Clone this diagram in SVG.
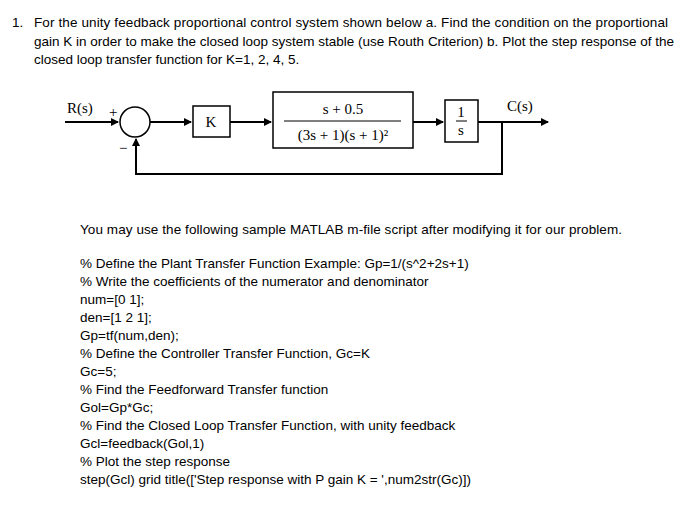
<svg xmlns="http://www.w3.org/2000/svg" width="681" height="507" viewBox="0 0 681 507">
<style>
.t{font-family:"Liberation Sans",sans-serif;font-size:13.5px;fill:#000}
.m{font-family:"Liberation Serif",serif;font-size:15px;fill:#000}
.b{fill:#fff;stroke:#000;stroke-width:1.5}
.l{fill:none;stroke:#000;stroke-width:2}
</style>
<defs><marker id="a" markerWidth="8" markerHeight="8" refX="7" refY="4" orient="auto" markerUnits="userSpaceOnUse"><path d="M0,0L8,4L0,8z"/></marker></defs>
<rect width="681" height="507" fill="#fff"/>
<text class="t" x="12" y="27">1.</text>
<text class="t" x="34" y="27" textLength="634">For the unity feedback proportional control system shown below a. Find the condition on the proportional</text>
<text class="t" x="34" y="46" textLength="640">gain K in order to make the closed loop system stable  (use Routh Criterion) b. Plot the step response of the</text>
<text class="t" x="34" y="64">closed loop transfer function for K=1, 2, 4, 5.</text>
<g id="connectors">
<path class="l" d="M65,122H118" marker-end="url(#a)"/>
<path class="l" d="M150,122H191" marker-end="url(#a)"/>
<path class="l" d="M230,122H271" marker-end="url(#a)"/>
<path class="l" d="M413,122H443" marker-end="url(#a)"/>
<path class="l" d="M478,122H548" marker-end="url(#a)"/>
<path class="l" d="M502,122V174H136V139" marker-end="url(#a)"/>
</g>
<g id="sum"><circle class="b" cx="135" cy="122" r="15"/><text class="m" x="109" y="117">+</text><text class="m" x="119" y="153">−</text></g>
<g id="input"><text class="m" x="67" y="113">R(s)</text></g>
<g id="K"><rect class="b" x="193" y="106" width="37" height="31"/><text class="m" x="211" y="127" text-anchor="middle">K</text></g>
<g id="plant"><rect class="b" x="273" y="92" width="140" height="56"/><text class="m" x="343" y="114" text-anchor="middle">s + 0.5</text><line x1="284" y1="121" x2="401" y2="121" stroke="#000"/><text class="m" x="343" y="140" text-anchor="middle">(3s + 1)(s + 1)²</text></g>
<g id="integ"><rect class="b" x="445" y="100" width="33" height="42"/><text class="m" x="461" y="117" text-anchor="middle" font-size="11">1</text><line x1="456" y1="121" x2="467" y2="121" stroke="#000"/><text class="m" x="461" y="135" text-anchor="middle" font-size="11">s</text></g>
<g id="output"><text class="m" x="507" y="111">C(s)</text></g>
<text class="t" x="80" y="234" textLength="542">You may use the following sample MATLAB m-file script after modifying it for our problem.</text>
<text class="t" x="80" y="268">% Define the Plant Transfer Function Example: Gp=1/(s^2+2s+1)</text>
<text class="t" x="80" y="286">% Write the coefficients of the numerator and denominator</text>
<text class="t" x="80" y="304">num=[0 1];</text>
<text class="t" x="80" y="322">den=[1 2 1];</text>
<text class="t" x="80" y="340">Gp=tf(num,den);</text>
<text class="t" x="80" y="358">% Define the Controller Transfer Function, Gc=K</text>
<text class="t" x="80" y="376">Gc=5;</text>
<text class="t" x="80" y="394">% Find the Feedforward Transfer function</text>
<text class="t" x="80" y="412">Gol=Gp*Gc;</text>
<text class="t" x="80" y="430">% Find the Closed Loop Transfer Function, with unity feedback</text>
<text class="t" x="80" y="448">Gcl=feedback(Gol,1)</text>
<text class="t" x="80" y="466">% Plot the step response</text>
<text class="t" x="80" y="484">step(Gcl) grid title(['Step response with P gain K = ',num2str(Gc)])</text>
</svg>
